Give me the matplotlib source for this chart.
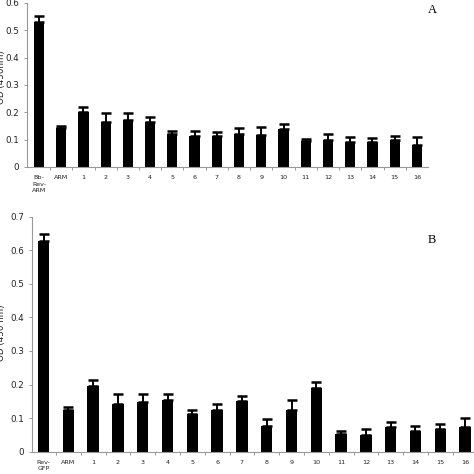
import matplotlib.pyplot as plt
import numpy as np

labels_a = ["Bb-\nRev-\nARM", "ARM"] + [str(i) for i in range(1, 17)]
od_a = [0.532, 0.141, 0.200, 0.166, 0.171, 0.164, 0.119, 0.113, 0.113, 0.122,
        0.118, 0.138, 0.094, 0.100, 0.092, 0.092, 0.098, 0.081]
err_a = [0.021, 0.009, 0.020, 0.031, 0.025, 0.018, 0.011, 0.017, 0.014, 0.021,
         0.029, 0.020, 0.009, 0.019, 0.016, 0.014, 0.016, 0.030]

labels_b = ["Rev-\nGFP", "ARM"] + [str(i) for i in range(1, 17)]
od_b = [0.629, 0.123, 0.196, 0.143, 0.148, 0.153, 0.112, 0.125, 0.151, 0.077,
        0.125, 0.191, 0.052, 0.050, 0.075, 0.063, 0.068, 0.073]
err_b = [0.020, 0.009, 0.018, 0.030, 0.025, 0.020, 0.011, 0.017, 0.014, 0.019,
         0.029, 0.018, 0.010, 0.019, 0.013, 0.013, 0.015, 0.028]

W = 474.0
fig = plt.figure(figsize=(4.74, 4.74), dpi=100)
fig.set_facecolor('white')

def panel(rect, labels, vals, errs, ymax, xlim, letter, letter_xy, ylab, ylab_y):
    ax = fig.add_axes(rect)
    x = np.arange(len(vals))
    ax.bar(x, vals, width=0.46, color='black', zorder=2)
    ax.errorbar(x, vals, yerr=[np.zeros(len(errs)), errs], fmt='none',
                ecolor='black', elinewidth=1.4, capsize=3.5, capthick=1.8, zorder=3)
    ax.set_ylim(0, ymax)
    ax.set_xlim(*xlim)
    ax.set_yticks(np.arange(0, ymax + 0.001, 0.1))
    ax.set_yticklabels(['0'] + ['%.1f' % v for v in np.arange(0.1, ymax + 0.001, 0.1)])
    ax.set_xticks(x)
    ax.set_xticklabels(labels, fontsize=4.6, color='#222222', linespacing=1.3)
    ax.set_xticks(x[:-1] + 0.5, minor=True)
    ax.tick_params(axis='x', which='major', length=0, pad=6)
    ax.tick_params(axis='x', which='minor', length=2, color='#888888', width=0.6)
    ax.tick_params(axis='y', length=2.5, color='#888888', width=0.6,
                   labelsize=6.3, pad=3, labelcolor='#222222')
    for s in ['top', 'right']:
        ax.spines[s].set_visible(False)
    for s in ['left', 'bottom']:
        ax.spines[s].set_color('#999999')
        ax.spines[s].set_linewidth(0.8)
    fig.text(letter_xy[0] / W, 1 - letter_xy[1] / W, letter, family='Liberation Serif',
             fontsize=9, ha='center', va='center')
    # y label sits partly beyond the left edge, as in the original figure crop
    fig.text(1.5 / W, 1 - ylab_y / W, ylab, rotation=90, fontsize=6.3,
             ha='center', va='center', color='#222222')
    return ax

panel([27 / W, (W - 167) / W, 401 / W, 164 / W], labels_a, od_a, err_a, 0.6,
      (-0.54, 17.5), "A", (432, 10), "OD (450nm)", 77)
panel([31.7 / W, (W - 451.7) / W, (W - 31.7) / W, 235 / W], labels_b, od_b, err_b, 0.7,
      (-0.48, 17.36), "B", (432, 240), "OD (450 nm)", 333)

fig.savefig("out.png", dpi=100, facecolor='white')
